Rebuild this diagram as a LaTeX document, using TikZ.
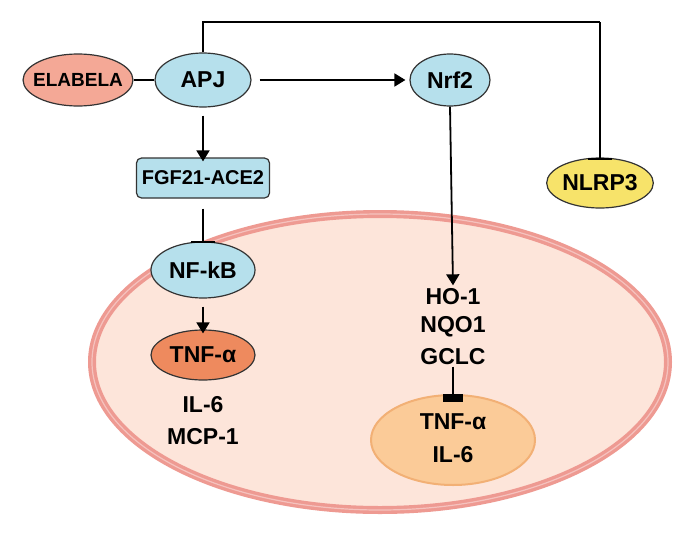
\documentclass[tikz,border=0pt]{standalone}
\usepackage{fontspec}
\setmainfont{Liberation Sans}
\usetikzlibrary{arrows.meta,shapes.geometric}
\definecolor{blu}{HTML}{B6E0EC}
\definecolor{sal}{HTML}{F4A896}
\definecolor{yel}{HTML}{F7E36A}
\definecolor{tnf}{HTML}{EE8A5E}
\definecolor{cell}{HTML}{FDE5DA}
\definecolor{cellb}{HTML}{EE9A92}
\definecolor{org}{HTML}{FBCB98}
\definecolor{orgb}{HTML}{F2B075}
\begin{document}
\begin{tikzpicture}[x=1pt,y=-1pt,font=\bfseries,
 ell/.style={ellipse,draw=black!80,line width=1.2pt,inner sep=0pt},
 txt/.style={font=\bfseries\fontsize{23}{26}\selectfont},
 stxt/.style={font=\bfseries\fontsize{20}{24}\selectfont},
 ar/.style={-{Triangle[length=11pt,width=13pt]},line width=1.8pt},
 inh/.style={-{Bar[width=24pt,line width=2pt]},line width=1.8pt}]
\useasboundingbox (0,0) rectangle (685,538);
\fill[white] (0,0) rectangle (685,538);
% cell
\draw[cellb,line width=8pt,fill=cell] (380,362) ellipse [x radius=288,y radius=148];
\draw[cellb!60!white,line width=1.2pt] (380,362) ellipse [x radius=288,y radius=148];
\node[ellipse,draw=orgb,line width=2pt,fill=org,minimum width=164pt,minimum height=90pt] (orng) at (453,440) {};
% nodes
\node[ellipse,draw=black!80,line width=1.2pt,inner sep=-6pt,fill=sal,minimum width=104pt,minimum height=52pt,font=\bfseries\fontsize{19}{22}\selectfont] (ela) at (78,80) {ELABELA};
\node[ell,fill=blu,minimum width=96pt,minimum height=54pt,txt] (apj) at (203,80) {APJ};
\node[ell,fill=blu,minimum width=80pt,minimum height=52pt,txt] (nrf) at (450,80) {Nrf2};
\node[ell,fill=yel,minimum width=90pt,minimum height=50pt,txt] (nlrp) at (600,183) {NLRP3};
\node[draw=black!80,line width=1.2pt,rounded corners=5pt,fill=blu,minimum width=133pt,minimum height=40pt,stxt] (fgf) at (203,178) {FGF21-ACE2};
\node[ell,fill=blu,minimum width=104pt,minimum height=56pt,txt] (nfkb) at (203,270) {NF-kB};
\node[ell,fill=tnf,minimum width=104pt,minimum height=50pt,txt] (tnf) at (203,355) {TNF-α};
\node[txt] (il6a) at (203,405) {IL-6};
\node[txt] (mcp) at (203,437) {MCP-1};
\node[txt] (ho) at (453,297) {HO-1};
\node[txt] (nqo) at (453,327) {NQO1};
\node[txt] (gclc) at (453,357) {GCLC};
\node[txt] (tnfb) at (453,422) {TNF-α};
\node[txt] (il6b) at (453,455) {IL-6};
\coordinate (c1) at (203,22);
\coordinate (c2) at (600,22);
\coordinate (gb) at (453,398);
% connectors
\draw[line width=1.8pt] (ela) -- (apj);
\draw[line width=1.8pt] (apj.north) -- (c1) -- (c2);
\draw[inh] (c2) -- ([yshift=-3pt]nlrp.north);
\draw[ar] (apj.east) ++(8,0) -- ([xshift=-4pt]nrf.west);
\draw[ar] ([yshift=-8pt]apj.south) -- ([yshift=-4pt]fgf.north);
\draw[inh] ([yshift=-10pt]fgf.south) -- ([yshift=-2pt]nfkb.north);
\draw[ar] ([yshift=-8pt]nfkb.south) -- ([yshift=-4pt]tnf.north);
\draw[ar] (nrf.south) -- ([yshift=0pt]ho.north);
\draw[line width=1.8pt] ([yshift=2pt]gclc.south) -- (gb);
\fill (443,394) rectangle (463,402);
\end{tikzpicture}
\end{document}
